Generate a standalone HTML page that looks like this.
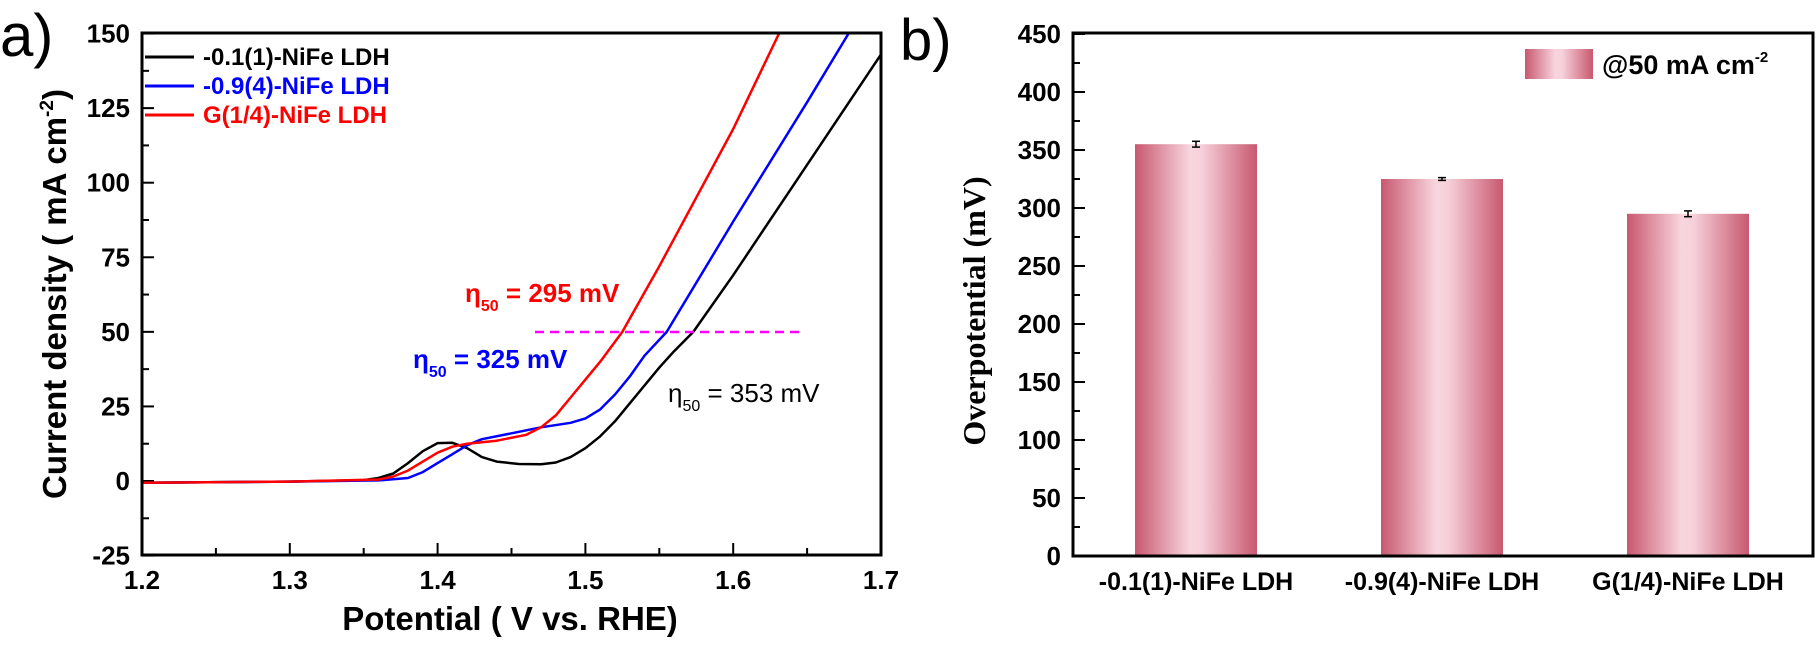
<!DOCTYPE html>
<html><head><meta charset="utf-8"><style>
html,body{margin:0;padding:0;background:#fff;}
svg text{font-family:"Liberation Sans",sans-serif;font-weight:bold;}
</style></head><body>
<svg id="s" width="1817" height="641" viewBox="0 0 1817 641" xmlns="http://www.w3.org/2000/svg">
<defs>
<linearGradient id="bg" x1="0" x2="1" y1="0" y2="0">
<stop offset="0" stop-color="#c85870"/><stop offset="0.45" stop-color="#f8d6de"/><stop offset="0.55" stop-color="#f6d0d9"/><stop offset="1" stop-color="#c85870"/>
</linearGradient>
</defs>
<!-- Panel a -->
<text x="0" y="56" font-size="60" style="font-weight:normal">a)</text>
<g id="a"></g>
<rect x="142" y="33" width="739" height="522" fill="none" stroke="#000" stroke-width="3"/>
<text transform="translate(66,294) rotate(-90)" text-anchor="middle" font-size="33">Current density ( mA cm<tspan dy="-13" font-size="19">-2</tspan><tspan dy="13">)</tspan></text>
<text x="510" y="630" text-anchor="middle" font-size="33">Potential ( V vs. RHE)</text>
<line x1="145" y1="57" x2="194" y2="57" stroke="#000" stroke-width="3"/>
<line x1="145" y1="86" x2="194" y2="86" stroke="#00f" stroke-width="3"/>
<line x1="145" y1="115" x2="194" y2="115" stroke="#f00" stroke-width="3"/>
<text x="203" y="65" font-size="24">-0.1(1)-NiFe LDH</text>
<text x="203" y="94" font-size="24" fill="#00f">-0.9(4)-NiFe LDH</text>
<text x="203" y="123" font-size="24" fill="#f00">G(1/4)-NiFe LDH</text>
<line x1="535" y1="332" x2="800" y2="332" stroke="#f0f" stroke-width="2.5" stroke-dasharray="9,6"/>
<text x="465" y="302" font-size="26" fill="#f00">η<tspan dy="9" font-size="16">50</tspan><tspan dy="-9"> = 295 mV</tspan></text>
<text x="413" y="368" font-size="26" fill="#00f">η<tspan dy="9" font-size="16">50</tspan><tspan dy="-9"> = 325 mV</tspan></text>
<text x="668" y="402" font-size="26" fill="#000" style="font-weight:normal">η<tspan dy="9" font-size="16">50</tspan><tspan dy="-9"> = 353 mV</tspan></text>
<!-- Panel b -->
<text x="900" y="60" font-size="58" style="font-weight:normal">b)</text>
<g id="b"></g>
<rect x="1073" y="33" width="740" height="523" fill="none" stroke="#000" stroke-width="3"/>
<rect x="1525" y="49" width="68" height="30" fill="url(#bg)"/>
<text x="1602" y="74" font-size="27">@50 mA cm<tspan dy="-12" font-size="15">-2</tspan></text>
<text transform="translate(985,311) rotate(-90)" text-anchor="middle" font-size="32" style="font-family:'Liberation Serif',serif;font-weight:bold">Overpotential (mV)</text>
</svg>
<script>
var NS="http://www.w3.org/2000/svg";
function el(p,t,a,txt){var e=document.createElementNS(NS,t);for(var k in a)e.setAttribute(k,a[k]);if(txt!=null)e.textContent=txt;p.appendChild(e);return e;}
var ga=document.getElementById('a');
function X(v){return 142+(v-1.2)*1478;}
function Y(j){return 481-j*2.983;}
for(var i=0;i<=10;i++){var v=1.2+i*0.05,x=X(v);el(ga,'line',{x1:x,y1:555,x2:x,y2:555-(i%2?7:12),stroke:'#000','stroke-width':2});
 if(i%2==0)el(ga,'text',{x:x,y:589,'text-anchor':'middle','font-size':26},(v).toFixed(1));}
for(var j=-25;j<=150;j+=12.5){var y=Y(j),maj=(j%25==0);el(ga,'line',{x1:142,y1:y,x2:142+(maj?12:7),y2:y,stroke:'#000','stroke-width':2});
 if(maj)el(ga,'text',{x:130,y:y+9,'text-anchor':'end','font-size':26},j);}
function curve(pts,col){var d='';pts.forEach(function(p,i){d+=(i?'L':'M')+X(p[0]).toFixed(1)+','+Y(p[1]).toFixed(1);});
 el(ga,'path',{d:d,fill:'none',stroke:col,'stroke-width':2.5,'stroke-linejoin':'round'});}
curve([[1.2,-0.6],[1.3,-0.2],[1.35,0.3],[1.36,1],[1.37,2.5],[1.38,6],[1.39,10],[1.40,12.7],[1.41,12.8],[1.42,11],[1.43,8],[1.44,6.5],[1.455,5.7],[1.47,5.6],[1.48,6.2],[1.49,8],[1.5,11],[1.51,15],[1.52,20],[1.53,26],[1.54,32],[1.55,38],[1.56,43.5],[1.573,50],[1.6,69],[1.65,106],[1.7,143]],'#000');
curve([[1.2,-0.6],[1.3,-0.2],[1.36,0.2],[1.38,1],[1.39,3],[1.40,6],[1.41,9],[1.42,12],[1.43,14],[1.45,16],[1.47,18],[1.49,19.5],[1.5,21],[1.51,24],[1.52,29],[1.53,35],[1.54,42],[1.555,50],[1.6,87],[1.65,127],[1.678,150]],'#00f');
curve([[1.2,-0.6],[1.3,-0.2],[1.36,0.5],[1.37,1.5],[1.38,3.5],[1.39,6.5],[1.40,9.5],[1.41,11.5],[1.42,12.5],[1.44,13.5],[1.46,15.5],[1.47,18],[1.48,22],[1.49,28],[1.5,34],[1.51,40],[1.525,50],[1.55,72],[1.6,118],[1.631,150]],'#f00');
var gb=document.getElementById('b');
function YB(v){return 556-v*522/450;}
for(var v=0;v<=450;v+=25){var y=YB(v),maj=(v%50==0);el(gb,'line',{x1:1073,y1:y,x2:1073+(maj?12:7),y2:y,stroke:'#000','stroke-width':2});
 if(maj)el(gb,'text',{x:1061,y:y+9,'text-anchor':'end','font-size':26},v);}
var bars=[[1135,355,2.5,'-0.1(1)-NiFe LDH'],[1381,325,1.2,'-0.9(4)-NiFe LDH'],[1627,295,2.5,'G(1/4)-NiFe LDH']];
bars.forEach(function(b){var y=YB(b[1]);el(gb,'rect',{x:b[0],y:y,width:122,height:556-y,fill:'url(#bg)'});
 var cx=b[0]+61,e=b[2]*522/450;el(gb,'line',{x1:cx,y1:y-e,x2:cx,y2:y+e,stroke:'#000','stroke-width':1.5});
 el(gb,'line',{x1:cx-4,y1:y-e,x2:cx+4,y2:y-e,stroke:'#000','stroke-width':1.5});el(gb,'line',{x1:cx-4,y1:y+e,x2:cx+4,y2:y+e,stroke:'#000','stroke-width':1.5});
 el(gb,'text',{x:cx,y:590,'text-anchor':'middle','font-size':25},b[3]);});
</script>
</body></html>
